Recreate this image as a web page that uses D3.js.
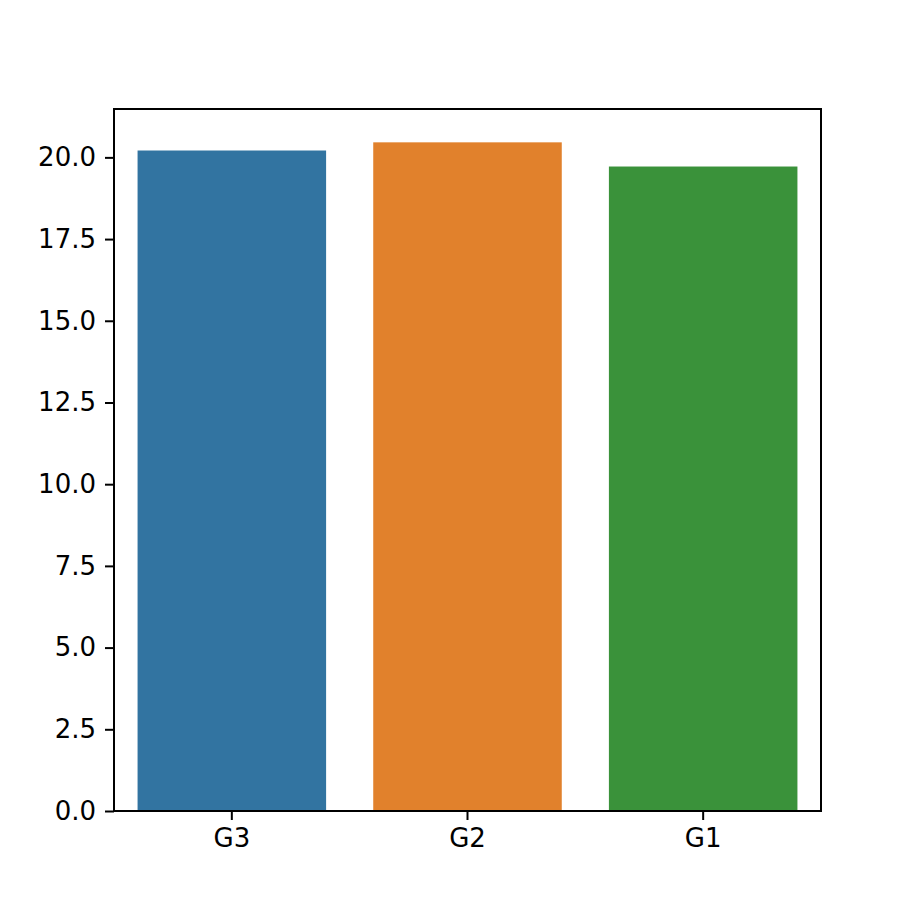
<!DOCTYPE html>
<html>
<head>
<meta charset="utf-8">
<script src="https://cdn.jsdelivr.net/npm/d3@7"></script>
<style>
  body { margin: 0; background: #fff; }
  svg text { font-family: "DejaVu Sans", sans-serif; fill: #000; }
</style>
</head>
<body>
<div id="chart"></div>
<script>
// Dades del gràfic
const categories = ['G3', 'G2', 'G1'];
const values = [20.21, 20.46, 19.72];
const barColors = ['#3274a1', '#e1812c', '#3a923a'];
const yTicks = [0, 2.5, 5, 7.5, 10, 12.5, 15, 17.5, 20];

const width = 912;
const height = 912;
const margin = { top: 109, right: 91, bottom: 101, left: 114 };
const fontSize = 26;
const tickLen = 9;
const tickPad = 9;

const svg = d3.select('#chart').append('svg')
    .attr('width', width)
    .attr('height', height);

const x = d3.scaleBand()
    .domain(categories)
    .range([margin.left, width - margin.right])
    .paddingInner(0.2)
    .paddingOuter(0.1);

const y = d3.scaleLinear()
    .domain([0, 21.48])
    .range([height - margin.bottom, margin.top]);

// Barres
svg.selectAll('rect.bar')
    .data(categories)
    .enter()
    .append('rect')
    .attr('class', 'bar')
    .attr('x', d => x(d))
    .attr('y', (d, i) => y(values[i]))
    .attr('width', x.bandwidth())
    .attr('height', (d, i) => y(0) - y(values[i]))
    .attr('fill', (d, i) => barColors[i]);

// Eixos
const xAxis = svg.append('g')
    .attr('transform', `translate(0,${height - margin.bottom})`)
    .call(d3.axisBottom(x).tickSize(tickLen).tickPadding(tickPad).tickSizeOuter(0));

const yAxis = svg.append('g')
    .attr('transform', `translate(${margin.left},0)`)
    .call(d3.axisLeft(y).tickValues(yTicks).tickFormat(d3.format('.1f'))
        .tickSize(tickLen).tickPadding(tickPad).tickSizeOuter(0));

[xAxis, yAxis].forEach(g => {
    g.select('.domain').remove();
    g.selectAll('line').attr('stroke', '#000').attr('stroke-width', 2);
    g.selectAll('text')
        .style('font-size', fontSize + 'px')
        .style('font-family', '"DejaVu Sans", sans-serif')
        .attr('fill', '#000');
});

// Marc dels eixos
svg.append('rect')
    .attr('x', margin.left)
    .attr('y', margin.top)
    .attr('width', width - margin.left - margin.right)
    .attr('height', height - margin.top - margin.bottom)
    .attr('fill', 'none')
    .attr('stroke', '#000')
    .attr('stroke-width', 2);
</script>
</body>
</html>
